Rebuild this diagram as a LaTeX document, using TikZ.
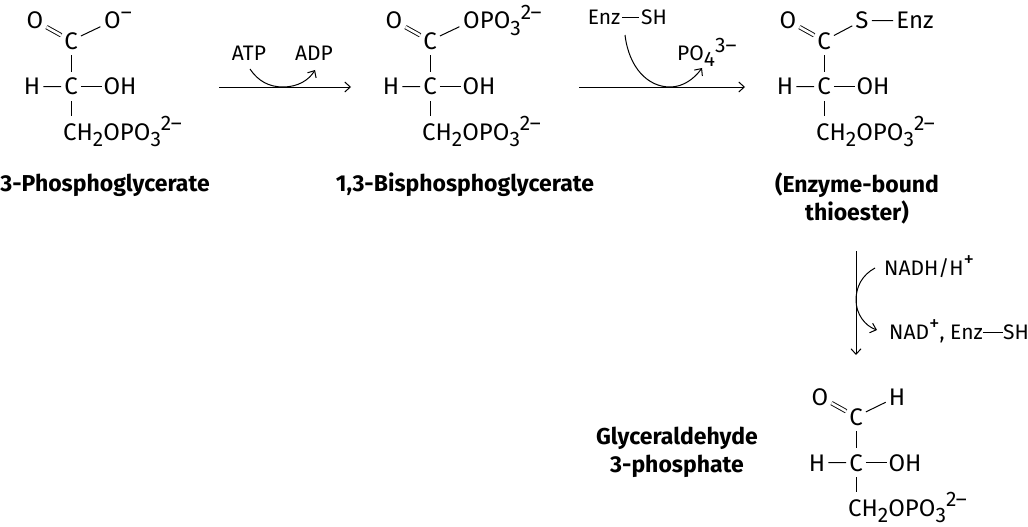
\documentclass[tikz,border=0pt]{standalone}
\usepackage{fontspec}
\setmainfont{Fira Sans}
\usetikzlibrary{arrows.meta}
\newcommand{\subs}[1]{\raisebox{-0.26em}{\fontsize{21}{23}\selectfont #1}}
\newcommand{\sups}[1]{\raisebox{0.4em}{\fontsize{21}{23}\selectfont #1}}
\newcommand{\phosph}{OPO\subs{3}\sups{2–}}
\tikzset{
  x=1pt,y=-1pt,
  every node/.style={font=\fontsize{24}{28}\selectfont,inner sep=0pt},
  atom/.style={anchor=base,inner xsep=3pt,inner ysep=6pt},
  grp/.style={anchor=base west,inner sep=0pt},
  cof/.style={anchor=base,inner xsep=2pt,font=\fontsize{21}{25}\selectfont},
  cofg/.style={anchor=base west,inner sep=0pt,font=\fontsize{21}{25}\selectfont},
  title/.style={anchor=center,align=center,font=\fontsize{23}{28}\selectfont\bfseries},
  bond/.style={line width=1pt,black},
  dbl/.style={double,double distance=2.6pt,line width=0.9pt,black},
  rxn/.style={line width=1pt,-{Straight Barb[length=5.5pt,width=10pt]}},
}
% #1 prefix, #2 x, #3 y of the central carbon
\newcommand{\backbone}[3]{%
  \begin{scope}[shift={(#2,#3)},name prefix=#1-]
    \node[atom] (cc) at (0,8) {C};
    \node[atom] (top) at (0,-38) {C};
    \node[atom] (o) at (-36,-58) {O};
    \node[atom] (h) at (-39,8) {H};
    \node[atom,inner xsep=1pt] (oh) at (49,8) {OH};
    \node[grp] (ch) at (-8,53) {CH\subs{2}\phosph};
    \draw[bond] (top) -- (cc);
    \draw[bond] (h) -- (cc);
    \draw[bond] (cc) -- (oh);
    \draw[bond] (cc) -- (cc |- ch.north);
    \draw[dbl] (o) -- (top);
  \end{scope}}
\begin{document}
\begin{tikzpicture}
\useasboundingbox (0,0) rectangle (1028,527);
% molecule 1
\backbone{m1}{71}{87}
\node[grp] (m1-om) at (104,29) {O\sups{–}};
\draw[bond,shorten >=4pt] (m1-top) -- (m1-om.west |- 0,25);
\node[title] (t1) at (105,185) {3-Phosphoglycerate};
% molecule 2
\backbone{m2}{430}{87}
\node[grp] (m2-op) at (463,29) {\phosph};
\draw[bond,shorten >=4pt] (m2-top) -- (m2-op.west |- 0,25);
\node[title] (t2) at (465,185) {1,3-Bisphosphoglycerate};
% molecule 3
\backbone{m3}{824}{87}
\node[atom] (m3-s) at (862,29) {S};
\node[atom] (m3-enz) at (915,29) {Enz};
\draw[bond] (m3-top) -- (m3-s);
\draw[bond] (m3-s) -- (m3-enz);
\node[title] (t3) at (857,198) {(Enzyme-bound\\thioester)};
% molecule 4
\backbone{m4}{856}{463}
\node[atom] (m4-h) at (897,405) {H};
\draw[bond] (m4-top) -- (m4-h);
\node[title] (t4) at (677,452) {Glyceraldehyde\\3-phosphate};
% arrow 1
\coordinate (a1s) at (219,87);
\coordinate (a1e) at (351,87);
\coordinate (a1c) at (283,87);
\draw[rxn] (a1s) -- (a1e);
\node[cof] (atp) at (249,60) {ATP};
\node[cof] (adp) at (314,60) {ADP};
\coordinate (c1s) at (250,69);
\coordinate (c1e) at (315,70);
\draw[rxn] (c1s) .. controls (258,81) and (269,87) .. (a1c) .. controls (298,87) and (309,80) .. (c1e);
% arrow 2
\coordinate (a2s) at (579,87);
\coordinate (a2e) at (745,87);
\coordinate (a2c) at (670,87);
\draw[rxn] (a2s) -- (a2e);
\node[cof] (enz1) at (604,25) {Enz};
\node[cof] (sh1) at (654,25) {SH};
\draw[bond] (enz1) -- (sh1);
\node[cofg] (po4) at (677,61) {PO\subs{4}\sups{3–}};
\coordinate (c2s) at (625,35);
\coordinate (c2e) at (702,68);
\draw[rxn] (c2s) .. controls (629,68) and (648,87) .. (a2c) .. controls (683,87) and (694,79) .. (c2e);
% arrow 3
\coordinate (a3s) at (856,251);
\coordinate (a3e) at (856,355);
\coordinate (a3c) at (856,300);
\draw[rxn] (a3s) -- (a3e);
\node[cofg] (nadh) at (884,275) {NADH/H\sups{+}};
\node[cofg] (nad) at (889,339) {NAD\sups{+},};
\node[cofg] (enz2) at (950,339) {Enz};
\node[cofg] (sh2) at (1003,339) {SH};
\coordinate (b3) at (983,332);
\draw[bond] (b3) -- (b3 -| sh2.west);
\coordinate (c3s) at (875,268);
\coordinate (c3e) at (877,330);
\draw[rxn] (c3s) .. controls (862,275) and (856,287) .. (a3c) .. controls (856,314) and (865,326) .. (c3e);
\end{tikzpicture}
\end{document}
